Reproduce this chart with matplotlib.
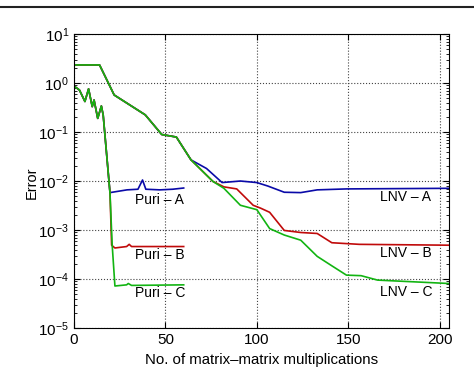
import matplotlib
matplotlib.use("Agg")
import matplotlib.pyplot as plt
from matplotlib.lines import Line2D

plt.rcParams['font.family'] = ['Liberation Sans', 'DejaVu Sans']
plt.rcParams['mathtext.fontset'] = 'custom'
plt.rcParams['mathtext.rm'] = 'Liberation Sans'
plt.rcParams['mathtext.it'] = 'Liberation Sans:italic'
plt.rcParams['mathtext.bf'] = 'Liberation Sans:bold'

# LNV curves (shared start, then split)
lnv_a_x = [0, 14, 22, 39, 48, 56, 64, 72.5, 81, 91, 100, 106, 115, 124, 133, 149, 205]
lnv_a_y = [2.34, 2.34, 0.57, 0.224, 0.089, 0.079, 0.027, 0.018, 0.0093, 0.0100,
           0.0093, 0.0079, 0.0059, 0.0058, 0.0066, 0.0069, 0.0071]

lnv_b_x = [0, 14, 22, 39, 48, 56, 64, 76, 82, 89, 98, 102, 107, 115, 124, 133, 141, 156, 205]
lnv_b_y = [2.34, 2.34, 0.57, 0.224, 0.089, 0.079, 0.027, 0.0098, 0.0076, 0.0069,
           0.0032, 0.0028, 0.0023, 0.00098, 0.00089, 0.00085, 0.00055, 0.00051, 0.00049]

lnv_c_x = [0, 14, 22, 39, 48, 56, 64, 76, 82, 91, 100, 107, 115, 124, 133, 141, 149, 157, 166, 205]
lnv_c_y = [2.34, 2.34, 0.57, 0.224, 0.089, 0.079, 0.027, 0.0098, 0.0071, 0.0032,
           0.0026, 0.00107, 0.00079, 0.00062, 0.00029, 0.000186, 0.000120, 0.000117,
           0.000095, 0.000081]

# Puri curves
puri_a_x = [0, 3, 6, 8, 10, 11, 13, 15, 16, 19.7, 29, 35, 37.5, 39.3, 47, 54, 60]
puri_a_y = [0.87, 0.72, 0.42, 0.76, 0.33, 0.45, 0.19, 0.34, 0.22, 0.0058,
            0.0066, 0.0068, 0.0105, 0.0068, 0.0066, 0.0068, 0.0072]

puri_b_x = [0, 3, 6, 8, 10, 11, 13, 15, 16, 19.7, 20.6, 22.4, 28.8, 30.2, 31.5, 60]
puri_b_y = [0.87, 0.72, 0.42, 0.76, 0.33, 0.45, 0.19, 0.34, 0.22, 0.0058,
            0.00049, 0.00043, 0.00046, 0.00051, 0.00046, 0.00046]

puri_c_x = [0, 3, 6, 8, 10, 11, 13, 15, 16, 19.7, 20.9, 22.4, 28.8, 29.7, 31.5, 60]
puri_c_y = [0.87, 0.72, 0.42, 0.76, 0.33, 0.45, 0.19, 0.34, 0.22, 0.0058,
            0.0005, 0.000072, 0.000076, 0.000081, 0.000074, 0.000076]

blue = '#0a0aa8'
red = '#c00a0a'
green = '#12b412'

fig = plt.figure(figsize=(4.74, 3.70), dpi=100)
ax = fig.add_axes([0.156, 0.1135, 0.791, 0.7945])

lw = 1.2
ax.plot(lnv_a_x, lnv_a_y, color=blue, lw=lw)
ax.plot(lnv_b_x, lnv_b_y, color=red, lw=lw)
ax.plot(lnv_c_x, lnv_c_y, color=green, lw=lw)
ax.plot(puri_a_x, puri_a_y, color=blue, lw=lw)
ax.plot(puri_b_x, puri_b_y, color=red, lw=lw)
ax.plot(puri_c_x, puri_c_y, color=green, lw=lw)

ax.set_yscale('log')
ax.set_xlim(0, 205)
ax.set_ylim(1e-5, 1e1)
ax.set_xticks([0, 50, 100, 150, 200])
ax.grid(True, which='major', linestyle=':', color='#444444', linewidth=0.8)
ax.tick_params(which='both', direction='in', top=True, right=True, labelsize=11)
ax.tick_params(which='major', length=4)
ax.tick_params(which='minor', length=2)

fs = 10
ax.text(33.3, 10**-2.39, 'Puri \u2013 A', fontsize=fs, va='center')
ax.text(33.3, 10**-3.51, 'Puri \u2013 B', fontsize=fs, va='center')
ax.text(33.3, 10**-4.29, 'Puri \u2013 C', fontsize=fs, va='center')
ax.text(167.6, 10**-2.32, 'LNV \u2013 A', fontsize=fs, va='center')
ax.text(167.6, 10**-3.46, 'LNV \u2013 B', fontsize=fs, va='center')
ax.text(167.6, 10**-4.26, 'LNV \u2013 C', fontsize=fs, va='center')

fig.text(261.5 / 474, 1 - 360 / 370, 'No. of matrix\u2013matrix multiplications',
         fontsize=10.8, ha='center', va='center')
fig.text(32 / 474, 1 - 183 / 370, 'Error', fontsize=10.5, rotation=90,
         ha='center', va='center')

# page header rule
fig.add_artist(Line2D([0, 1], [0.981, 0.981], color='#222222', lw=1.5,
                      transform=fig.transFigure))

fig.savefig('out.png', dpi=100)
